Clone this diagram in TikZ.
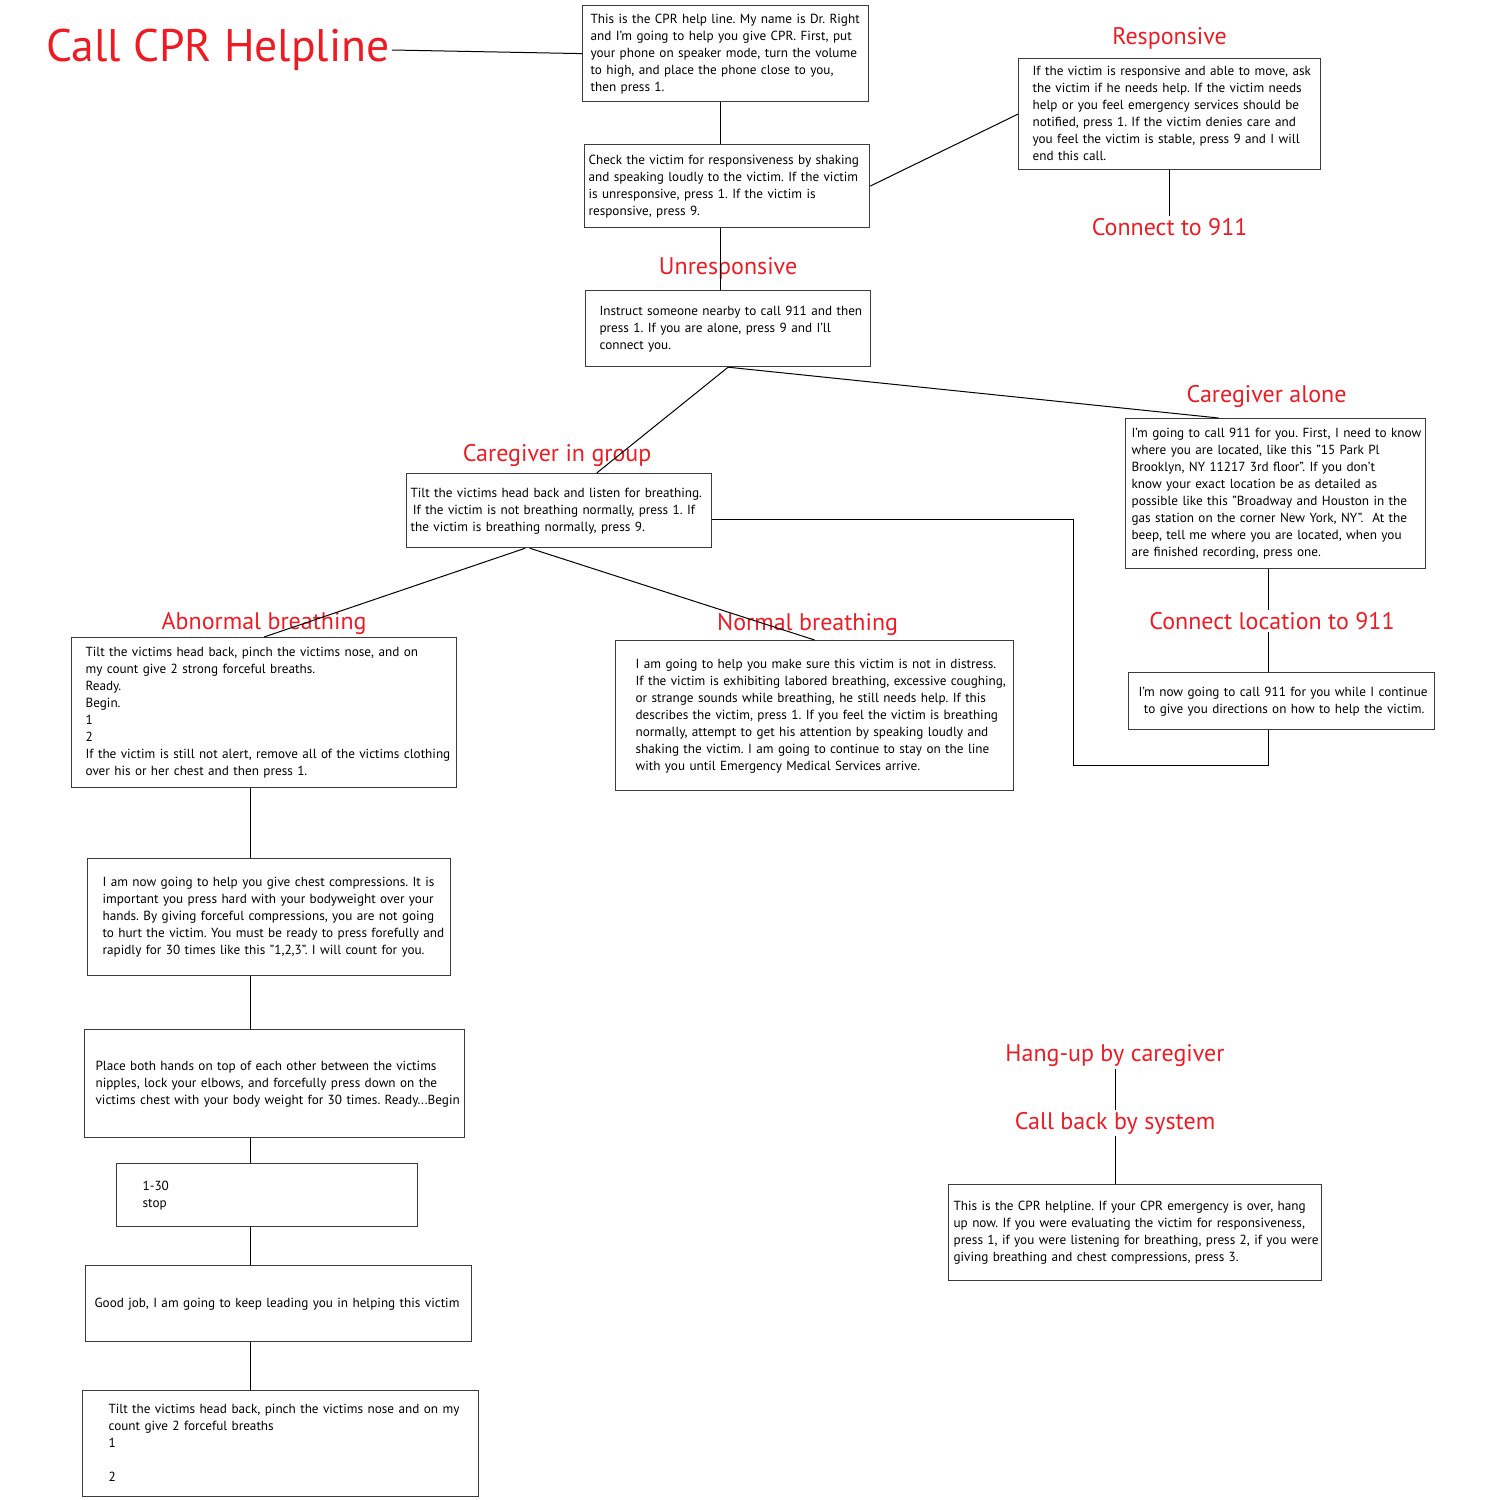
\documentclass[tikz,border=0pt]{standalone}
\usepackage{fontspec}
\setmainfont{PT Sans}
\usepackage{tikz}
\usetikzlibrary{positioning}
\definecolor{AlertRed}{RGB}{237, 28, 36}
\definecolor{BoxGray}{RGB}{60, 60, 60}
\newcommand{\boxfont}{\fontsize{6.6}{8.5}\selectfont}
\newcommand{\msg}[1]{\begin{tabular}{@{}l@{}}#1\end{tabular}}
\frenchspacing
\tikzset{
	msgbox/.style={draw=BoxGray, line width=0.6pt, rectangle, anchor=north west, align=left, font=\boxfont, inner ysep=0pt},
	tag/.style={text=AlertRed, font=\fontsize{12}{14}\selectfont, inner sep=1pt},
	link/.style={line width=0.5pt},
}

\begin{document}
\begin{tikzpicture}[x=0.5pt, y=-0.5pt]
\useasboundingbox (0,0) rectangle (1500,1500);
\coordinate (xMid) at (720,0);
\coordinate (xSpine) at (250,0);
\coordinate (xLoc) at (1268,0);
\coordinate (cLoop) at (1073,765);

% top of the call
\node[tag, font=\fontsize{22.8}{27}\selectfont] (lHelp) at (218,50) {Call CPR Helpline};
\node[msgbox, text width=135pt, inner xsep=4pt, minimum height=48pt] (bHelp) at (582,5) {\msg{This is the CPR help line. My name is Dr. Right\\ and I'm going to help you give CPR. First, put\\ your phone on speaker mode, turn the volume\\ to high, and place the phone close to you,\\ then press 1.}};
\node[msgbox, text width=138.5pt, inner xsep=2pt, minimum height=41.5pt] (bCheck) at (584,144) {\msg{Check the victim for responsiveness by shaking\\ and speaking loudly to the victim. If the victim\\ is unresponsive, press 1. If the victim is\\ responsive, press 9.}};

% responsive branch
\node[msgbox, text width=137pt, inner xsep=7pt, minimum height=55.5pt] (bResp) at (1018,58) {\msg{If the victim is responsive and able to move, ask\\ the victim if he needs help. If the victim needs\\ help or you feel emergency services should be\\ notified, press 1. If the victim denies care and\\ you feel the victim is stable, press 9 and I will\\ end this call.}};
\node[tag, above=3pt of bResp] (lResp) {Responsive};
\node[tag, below=23pt of bResp] (lConn) {Connect to 911};

% unresponsive branch
\node[msgbox, text width=128.5pt, inner xsep=7pt, minimum height=38pt] (bUnresp) at (585,290) {\msg{Instruct someone nearby to call 911 and then\\ press 1. If you are alone, press 9 and I'll\\ connect you.}};
\node[tag, above=4pt of bUnresp] (lUnresp) {Unresponsive};

\node[msgbox, text width=148.5pt, inner xsep=2pt, minimum height=37pt] (bGroup) at (406,473) {\msg{Tilt the victims head back and listen for breathing.\\ \,If the victim is not breathing normally, press 1. If\\ the victim is breathing normally, press 9.}};
\node[tag, above=2pt of bGroup, xshift=-1pt] (lGroup) {Caregiver in group};

\node[msgbox, text width=144pt, inner xsep=3pt, minimum height=75pt] (bAlone) at (1125,418) {\msg{I'm going to call 911 for you. First, I need to know\\ where you are located, like this "15 Park Pl\\ Brooklyn, NY 11217 3rd floor". If you don't\\ know your exact location be as detailed as\\ possible like this "Broadway and Houston in the\\ gas station on the corner New York, NY".~ At the\\ beep, tell me where you are located, when you\\ are finished recording, press one.}};
\node[tag, above=4pt of bAlone, xshift=-4.5pt] (lAlone) {Caregiver alone};
\node[tag] (lConnLoc) at (1272,621) {Connect location to 911};
\node[msgbox, align=center, text width=143pt, inner xsep=5pt, minimum height=28.5pt] (bNow) at (1128,672) {\begin{tabular}{@{}c@{}}I'm now going to call 911 for you while I continue\\ \,to give you directions on how to help the victim.\end{tabular}};

% breathing checks
\node[msgbox, text width=178.5pt, inner xsep=7pt, minimum height=75pt] (bAbn) at (71,637) {\msg{Tilt the victims head back, pinch the victims nose, and on\\ my count give 2 strong forceful breaths.\\ Ready.\\ Begin.\\ 1\\ 2\\ If the victim is still not alert, remove all of the victims clothing\\ over his or her chest and then press 1.}};
\node[tag, above=0pt of bAbn] (lAbn) {Abnormal breathing};

\node[msgbox, text width=179pt, inner xsep=10pt, minimum height=75pt] (bNormal) at (615,640) {\msg{I am going to help you make sure this victim is not in distress.\\ If the victim is exhibiting labored breathing, excessive coughing,\\ or strange sounds while breathing, he still needs help. If this\\ describes the victim, press 1. If you feel the victim is breathing\\ normally, attempt to get his attention by speaking loudly and\\ shaking the victim. I am going to continue to stay on the line\\ with you until Emergency Medical Services arrive.}};
\node[tag, above=1pt of bNormal, xshift=-3.5pt] (lNormal) {Normal breathing};

% compressions
\node[msgbox, text width=166.5pt, inner xsep=7.5pt, minimum height=58.5pt] (bComp) at (87,858) {\msg{I am now going to help you give chest compressions. It is\\ important you press hard with your bodyweight over your\\ hands. By giving forceful compressions, you are not going\\ to hurt the victim. You must be ready to press forefully and\\ rapidly for 30 times like this "1,2,3". I will count for you.}};
\node[msgbox, text width=179pt, inner xsep=5.5pt, minimum height=54pt] (bHands) at (84,1029) {\msg{Place both hands on top of each other between the victims\\ nipples, lock your elbows, and forcefully press down on the\\ victims chest with your body weight for 30 times. Ready...Begin}};
\node[msgbox, text width=124.5pt, inner xsep=13pt, minimum height=31.5pt] (bCount) at (116,1163) {\msg{1-30\\ stop}};
\node[msgbox, text width=184pt, inner xsep=4.5pt, minimum height=38pt] (bGood) at (85,1265) {\msg{Good job, I am going to keep leading you in helping this victim}};
\node[msgbox, text width=172pt, inner xsep=13pt, minimum height=53pt] (bBreaths) at (82,1390) {\msg{Tilt the victims head back, pinch the victims nose and on my\\ count give 2 forceful breaths\\ 1\\[8.5pt] 2}};

% call back
\node[tag] (lHang) at (1115,1056) {Hang-up by caregiver};
\node[tag] (lBack) at (1115,1123) {Call back by system};
\node[msgbox, text width=181.5pt, inner xsep=2.5pt, minimum height=48pt] (bBack) at (948,1184) {\msg{This is the CPR helpline. If your CPR emergency is over, hang\\ up now. If you were evaluating the victim for responsiveness,\\ press 1, if you were listening for breathing, press 2, if you were\\ giving breathing and chest compressions, press 3.}};

% connectors
\draw[link] (lHelp.east) -- (bHelp.west);
\draw[link] (bHelp.south -| xMid) -- (bCheck.north -| xMid);
\draw[link] (bCheck.east) -- (bResp.west);
\draw[link] (bResp.south) -- (lConn.north);
\draw[link] (bCheck.south -| xMid) -- (bUnresp.north -| xMid);
\draw[link] (bUnresp.south) -- (bGroup.45);
\draw[link] (bUnresp.south) -- (bAlone.127);
\draw[link] (bGroup.228) -- (bAbn.north);
\draw[link] (bGroup.232) -- (bNormal.north);
\draw[link] ([yshift=-4.5pt]bGroup.east) -| (cLoop) -| (bNow.south -| xLoc);
\draw[link] (bAlone.south -| xLoc) -- (lConnLoc.north -| xLoc);
\draw[link] (lConnLoc.south -| xLoc) -- (bNow.north -| xLoc);
\draw[link] (bAbn.south -| xSpine) -- (bComp.north -| xSpine);
\draw[link] (bComp.south -| xSpine) -- (bHands.north -| xSpine);
\draw[link] (bHands.south -| xSpine) -- (bCount.north -| xSpine);
\draw[link] (bCount.south -| xSpine) -- (bGood.north -| xSpine);
\draw[link] (bGood.south -| xSpine) -- (bBreaths.north -| xSpine);
\draw[link] (lHang.south) -- (lBack.north);
\draw[link] (lBack.south) -- (bBack.north -| lBack);
\end{tikzpicture}
\end{document}
